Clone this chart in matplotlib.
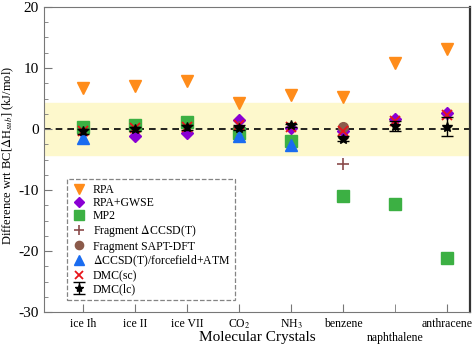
import numpy as np
import matplotlib
matplotlib.use('Agg')
import matplotlib.pyplot as plt

plt.rcParams['font.family'] = ['Liberation Serif', 'DejaVu Serif']
plt.rcParams['mathtext.fontset'] = 'stix'
plt.rcParams['axes.unicode_minus'] = False

crystals = ['ice Ih', 'ice II', 'ice VII', 'CO$_2$', 'NH$_3$', 'benzene', 'naphthalene', 'anthracene']
xpos = np.arange(1, len(crystals) + 1)

# values in kJ/mol, None where a method has no point
rpa = [6.7, 7.0, 7.9, 4.2, 5.6, 5.3, 10.8, 13.1]
rpa_gwse = [-0.5, -1.2, -0.7, 1.4, 0.2, -0.3, 1.7, 2.6]
mp2 = [0.4, 0.6, 1.2, -0.7, -2.0, -11.0, -12.2, -21.2]
frag_ccsdt = [None, None, None, 0.3, None, -5.8, None, None]
frag_sapt = [None, None, None, None, None, 0.4, None, None]
ccsdt_ff = [-1.5, None, None, -1.2, -2.6, None, None, None]
dmc_sc = [-0.4, 0.1, 0.3, 0.6, 0.3, -0.4, 1.3, 2.3]
dmc_lc = [-0.4, 0.0, 0.3, 0.2, 0.6, -1.6, 0.5, 0.4]
dmc_lc_err = [0.4, 0.4, 0.4, 0.4, 0.3, 0.4, 0.8, 1.5]
band = 4.184  # 1 kcal/mol

def pts(vals):
    x = [xi for xi, v in zip(xpos, vals) if v is not None]
    y = [v for v in vals if v is not None]
    return x, y

fig = plt.figure(figsize=(4.74, 3.48), dpi=100)
ax = fig.add_axes([0.093, 0.103, 0.899, 0.877])

ax.axhspan(-band, band, color='#fdf8cc', zorder=0)
ax.axhline(0, color='black', ls='--', lw=1.2, dashes=(4, 3), zorder=1)

ax.plot(*pts(rpa), 'v', color='#ff8c1a', ms=8, ls='none', label='RPA', zorder=3)
ax.plot(*pts(rpa_gwse), 'D', color='#8a00d4', ms=6, ls='none', label='RPA+GWSE', zorder=3)
ax.plot(*pts(mp2), 's', color='#3cb043', ms=8, ls='none', label='MP2', zorder=3)
ax.plot(*pts(frag_ccsdt), '+', color='#8b4c4c', ms=9, mew=1.2, ls='none', label=r'Fragment $\Delta$CCSD(T)', zorder=3)
ax.plot(*pts(frag_sapt), 'o', color='#8b5a4a', ms=7, ls='none', label='Fragment SAPT-DFT', zorder=3)
ax.plot(*pts(ccsdt_ff), '^', color='#1a6cf0', ms=8, ls='none', label=r'$\Delta$CCSD(T)/forcefield+ATM', zorder=3)
ax.plot(*pts(dmc_sc), 'x', color='#e8141a', ms=7, mew=1.3, ls='none', label='DMC(sc)', zorder=4)
ax.errorbar(xpos, dmc_lc, yerr=dmc_lc_err, fmt='*', color='black', ms=7,
            elinewidth=1, capsize=4, label='DMC(lc)', zorder=5)

ax.set_xlim(0.25, 8.45)
ax.set_ylim(-30, 20)
# naphthalene label sits lower in the original, so it goes on a minor tick with more pad
low = [6]
ax.set_xticks([x for i, x in enumerate(xpos) if i not in low])
ax.set_xticklabels([c for i, c in enumerate(crystals) if i not in low], fontsize=8.5)
ax.set_xticks([xpos[i] for i in low], [crystals[i] for i in low], minor=True, fontsize=8.5)

ax.set_yticks([-30, -20, -10, 0, 10, 20])
ax.set_yticks(np.arange(-30, 20.1, 2.5), minor=True)
ax.tick_params(axis='y', direction='in', labelsize=11, length=6, color='#777777', pad=4)
ax.tick_params(axis='y', which='minor', direction='in', length=3, color='#777777')
ax.tick_params(axis='x', which='both', direction='in', length=6, color='#777777', pad=4)
ax.tick_params(axis='x', which='minor', pad=14)
for s in ['left', 'bottom', 'top']:
    ax.spines[s].set_color('#777777')
ax.spines['right'].set_color('#333333')
ax.spines['right'].set_linewidth(1.6)

ax.set_xlabel('Molecular Crystals', fontsize=11)
ax.xaxis.set_label_coords(0.5, -0.062)
ax.set_ylabel(r'Difference wrt BC[$\Delta$H$_{sub}$] (kJ/mol)', fontsize=9)
ax.yaxis.set_label_coords(-0.066, 0.515)

leg = ax.legend(loc='upper left', bbox_to_anchor=(0.054, 0.436), fontsize=8.5,
                frameon=True, fancybox=False, handletextpad=0.6, labelspacing=0.1,
                borderpad=0.4, handlelength=1.2, markerscale=0.85, borderaxespad=0)
leg.get_frame().set_linestyle('--')
leg.get_frame().set_edgecolor('#666666')
leg.get_frame().set_linewidth(0.9)

fig.savefig('out.png', dpi=100)
